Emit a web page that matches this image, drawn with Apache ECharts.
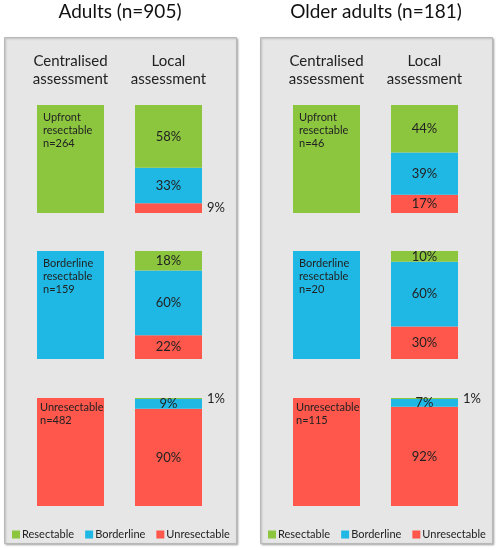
<!DOCTYPE html>
<html>
<head>
<meta charset="utf-8">
<script src="https://cdn.jsdelivr.net/npm/echarts@6/dist/echarts.min.js"></script>
<style>
  html, body { margin: 0; padding: 0; background: #fff; }
  #chart { width: 496px; height: 550px; }
</style>
</head>
<body>
<div id="chart"></div>
<script>
// data
const panelTitles = ['Adults (n=905)', 'Older adults (n=181)'];
const assessments = ['Centralised\nassessment', 'Local\nassessment'];
const statuses = ['Resectable', 'Borderline', 'Unresectable'];

const adultsCentral = ['Upfront\nresectable\nn=264', 'Borderline\nresectable\nn=159', 'Unresectable\nn=482'];
const adultsResectable = [58, 18, 1];
const adultsBorderline = [33, 60, 9];
const adultsUnresectable = [9, 22, 90];

const olderCentral = ['Upfront\nresectable\nn=46', 'Borderline\nresectable\nn=20', 'Unresectable\nn=115'];
const olderResectable = [44, 10, 1];
const olderBorderline = [39, 60, 7];
const olderUnresectable = [17, 30, 92];

const colors = { Resectable: '#8cc63f', Borderline: '#1fb8e5', Unresectable: '#ff574b' };
const textColor = '#222';
const font = 'Lato';

const panels = [
  { title: panelTitles[0], central: adultsCentral, local: [adultsResectable, adultsBorderline, adultsUnresectable] },
  { title: panelTitles[1], central: olderCentral, local: [olderResectable, olderBorderline, olderUnresectable] }
];

// layout
const panelX = [4, 260];
const panelW = 232;
const rowTop = [105, 251, 398];
const rowH = 108;

const grids = [], xAxes = [], yAxes = [], series = [], titles = [], legends = [], graphics = [];

panels.forEach((panel, p) => {
  const ox = panelX[p];
  graphics.push({
    type: 'rect', z: -10,
    shape: { x: ox + 0.5, y: 37.5, width: panelW, height: 506 },
    style: { fill: '#e6e6e6', stroke: '#b8b8b8', lineWidth: 1,
      shadowBlur: 2, shadowOffsetX: 1, shadowOffsetY: 1, shadowColor: 'rgba(0,0,0,0.25)' }
  });
  titles.push({
    text: panel.title, left: ox + panelW / 2, top: 2, textAlign: 'center', padding: 0,
    textStyle: { fontFamily: font, fontSize: 19, fontWeight: 'normal', color: '#111' }
  });
  legends.push({
    data: statuses, left: ox + 8, top: 529, width: 400, icon: 'rect', itemWidth: 8, itemHeight: 8,
    itemGap: 11, padding: 0, selectedMode: false,
    formatter: '{n|{name}}',
    textStyle: { fontFamily: font, fontSize: 11, color: textColor,
      rich: { n: { fontFamily: font, fontSize: 11, color: textColor, padding: [0, 0, 0, -3] } } }
  });

  rowTop.forEach((top, g) => {
    const gi = grids.length;
    grids.push({ left: ox + 17.5, top: top, width: 196, height: rowH });
    xAxes.push({
      gridIndex: gi, type: 'category', data: assessments, position: 'top',
      axisLine: { show: false }, axisTick: { show: false },
      axisLabel: { show: g === 0, margin: 17, fontFamily: font, fontSize: 15, lineHeight: 18, color: textColor }
    });
    yAxes.push({ gridIndex: gi, type: 'value', min: 0, max: 100, show: false });

    // stack from bottom: Unresectable, Borderline, Resectable
    [2, 1, 0].forEach(c => {
      const name = statuses[c];
      const central = c === g ? 100 : 0;
      const local = panel.local[c][g];
      // small segments at the top or bottom of the stack get their label beside the bar
      const outside = local < 10 && (c === 0 || c === 2);
      series.push({
        name: name, type: 'bar', xAxisIndex: gi, yAxisIndex: gi, stack: 'row' + gi,
        barWidth: 67, itemStyle: { color: colors[name] },
        data: [
          {
            value: central,
            label: {
              show: central > 0, position: 'insideTopLeft', distance: g === 2 ? 3 : 6,
              formatter: panel.central[g], fontFamily: font, fontSize: 11, lineHeight: 13, color: textColor
            }
          },
          {
            value: local,
            label: {
              show: local > 0, position: outside ? 'right' : 'inside', distance: 5,
              formatter: '{c}%', fontFamily: font, fontSize: 13, color: textColor
            }
          }
        ]
      });
    });
  });
});

const chart = echarts.init(document.getElementById('chart'));
chart.setOption({
  animation: false,
  backgroundColor: '#fff',
  title: titles,
  legend: legends,
  grid: grids,
  xAxis: xAxes,
  yAxis: yAxes,
  graphic: graphics,
  series: series
});
</script>
</body>
</html>
